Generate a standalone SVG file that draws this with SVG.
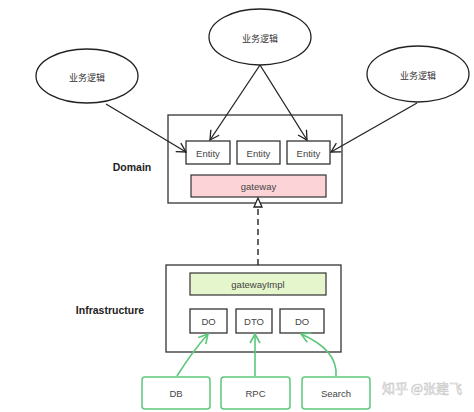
<svg xmlns="http://www.w3.org/2000/svg" width="474" height="412" viewBox="0 0 474 412">
<style>
.t{font-family:"Liberation Sans","Noto Sans",sans-serif;font-size:9.5px;fill:#444;text-anchor:middle;dominant-baseline:central}
.cn{font-family:"Noto Sans CJK SC",sans-serif;font-size:9px;fill:#333;text-anchor:middle;dominant-baseline:central}
.lb{font-family:"Liberation Sans","Noto Sans",sans-serif;font-size:10.5px;fill:#222;font-weight:bold;text-anchor:middle;dominant-baseline:central}
.ell{fill:#fff;stroke:#222;stroke-width:1.3}
.box{fill:#fff;stroke:#333;stroke-width:1.3}
.g{fill:#fff;stroke:#5cc77a;stroke-width:1.5}
.blk{stroke:#222;stroke-width:1.3;fill:none}
.grn{stroke:#5cc77a;stroke-width:1.6;fill:none}
</style>
<defs>
<marker id="ab" markerWidth="12" markerHeight="12" refX="10" refY="6" orient="auto" markerUnits="userSpaceOnUse">
<path d="M1,1 L10,6 L1,11" fill="none" stroke="#222" stroke-width="1.3"/>
</marker>
<marker id="ag" markerWidth="12" markerHeight="12" refX="10" refY="6" orient="auto" markerUnits="userSpaceOnUse">
<path d="M1,1 L10,6 L1,11" fill="none" stroke="#5cc77a" stroke-width="1.6"/>
</marker>
<marker id="tri" markerWidth="12" markerHeight="12" refX="10" refY="6" orient="auto" markerUnits="userSpaceOnUse">
<path d="M1,2 L10,6 L1,10 Z" fill="#fff" stroke="#222" stroke-width="1.3"/>
</marker>
</defs>
<rect width="474" height="412" fill="#fff"/>

<g id="logic-left"><ellipse class="ell" cx="87" cy="76" rx="51" ry="27"/><text class="cn" x="87" y="77">业务逻辑</text></g>
<g id="logic-center"><ellipse class="ell" cx="260" cy="37" rx="51" ry="28"/><text class="cn" x="260" y="38">业务逻辑</text></g>
<g id="logic-right"><ellipse class="ell" cx="418" cy="74" rx="51" ry="28"/><text class="cn" x="418" y="75">业务逻辑</text></g>

<g id="domain">
<rect class="box" x="168" y="115" width="174" height="88"/>
<text class="lb" x="132" y="167">Domain</text>
</g>
<g id="entity1"><rect class="box" x="186" y="141" width="44" height="23"/><text class="t" x="208" y="153">Entity</text></g>
<g id="entity2"><rect class="box" x="237" y="141" width="43" height="23"/><text class="t" x="258.5" y="153">Entity</text></g>
<g id="entity3"><rect class="box" x="287" y="141" width="43" height="23"/><text class="t" x="308.5" y="153">Entity</text></g>
<g id="gateway"><rect x="191" y="175" width="135" height="22" fill="#fcd4d8" stroke="#333" stroke-width="1.2"/><text class="t" x="258.5" y="186">gateway</text></g>

<g id="infrastructure">
<rect class="box" x="166" y="265" width="175" height="87"/>
<text class="lb" x="110" y="310">Infrastructure</text>
</g>
<g id="gatewayImpl"><rect x="190" y="273" width="136" height="22" fill="#e5f5cc" stroke="#333" stroke-width="1.2"/><text class="t" x="258" y="284">gatewayImpl</text></g>
<g id="do1"><rect class="box" x="190" y="309" width="37" height="24"/><text class="t" x="208.5" y="321">DO</text></g>
<g id="dto"><rect class="box" x="236" y="309" width="36" height="24"/><text class="t" x="254" y="321">DTO</text></g>
<g id="do2"><rect class="box" x="280" y="309" width="44" height="24"/><text class="t" x="302" y="321">DO</text></g>

<g id="db"><rect class="g" x="142" y="377" width="68" height="32" rx="3"/><text class="t" x="176" y="393">DB</text></g>
<g id="rpc"><rect class="g" x="221" y="377" width="69" height="32" rx="3"/><text class="t" x="255.5" y="393">RPC</text></g>
<g id="search"><rect class="g" x="302" y="377" width="68" height="32" rx="3"/><text class="t" x="336" y="393">Search</text></g>

<g id="connectors">
<line class="blk" x1="106" y1="104" x2="186" y2="152" marker-end="url(#ab)"/>
<line class="blk" x1="260" y1="65" x2="210" y2="140" marker-end="url(#ab)"/>
<line class="blk" x1="260" y1="65" x2="307" y2="140" marker-end="url(#ab)"/>
<line class="blk" x1="417" y1="103" x2="331" y2="152" marker-end="url(#ab)"/>
<line x1="258" y1="265" x2="258" y2="198" stroke="#222" stroke-width="1.4" stroke-dasharray="6,4" marker-end="url(#tri)"/>
<path class="grn" d="M177,376 Q192,352 208,334" marker-end="url(#ag)"/>
<line class="grn" x1="255" y1="376" x2="255" y2="334" marker-end="url(#ag)"/>
<path class="grn" d="M336,376 Q338,350 301,334" marker-end="url(#ag)"/>
</g>
<text x="422" y="393" font-family="Noto Sans CJK SC,sans-serif" font-size="13" fill="#fff" stroke="#c8c8c8" stroke-width="0.6" text-anchor="middle">知乎 @张建飞</text>
</svg>
